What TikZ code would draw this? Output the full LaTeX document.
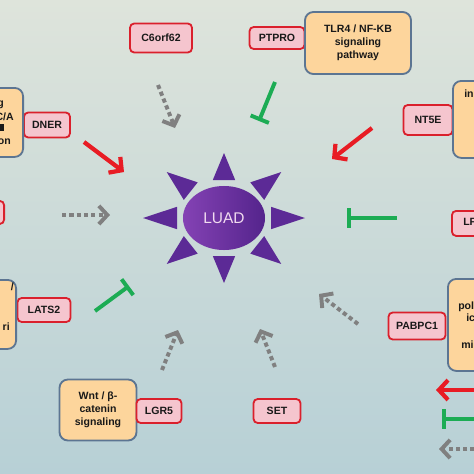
\documentclass[tikz,border=0pt]{standalone}
\usepackage{fontspec}
\setmainfont{Liberation Sans}
\usetikzlibrary{arrows.meta,shapes.geometric,calc}
\definecolor{bgtop}{RGB}{222,228,219}
\definecolor{bgbot}{RGB}{183,208,214}
\definecolor{pinkfill}{RGB}{245,197,206}
\definecolor{pinkline}{RGB}{218,32,44}
\definecolor{orfill}{RGB}{253,213,156}
\definecolor{orline}{RGB}{92,117,146}
\definecolor{actred}{RGB}{232,28,36}
\definecolor{inhgreen}{RGB}{28,172,84}
\definecolor{dotgrey}{RGB}{128,128,128}
\definecolor{sunlight}{RGB}{132,66,180}
\definecolor{sundark}{RGB}{84,36,140}
\definecolor{raycol}{RGB}{92,42,150}
\definecolor{luadtext}{RGB}{242,220,240}
\begin{document}
\begin{tikzpicture}[x=0.025cm, y=-0.025cm,
  gene/.style={draw=pinkline, fill=pinkfill, line width=1.3pt, rounded corners=3pt, inner sep=0pt, font=\bfseries\fontsize{7.5}{9}\selectfont, text=black!90},
  pathway/.style={draw=orline, fill=orfill, line width=1.3pt, rounded corners=6pt, inner sep=0pt, align=center, font=\bfseries\fontsize{7.5}{9.3}\selectfont, text=black!90},
  frag/.style={inner sep=0pt, font=\bfseries\fontsize{7.5}{9}\selectfont, text=black!90},
  activ/.style={draw=actred, line width=3pt, -{Straight Barb[length=6.5pt,width=14pt]}},
  inhib/.style={draw=inhgreen, line width=2.8pt, -{Bar[width=14pt]}},
  promo/.style={draw=dotgrey, line width=2.8pt, dash pattern=on 3pt off 2.2pt, -{Straight Barb[length=6pt,width=13pt]}}]
\useasboundingbox (0,0) rectangle (474,474);
\clip (0,0) rectangle (474,474);
\shade [top color=bgtop, bottom color=bgbot] (0,0) rectangle (474,474);

% LUAD and its rays
\node [ellipse, minimum width=2.05cm, minimum height=1.6cm, left color=sunlight, right color=sundark, text=luadtext, font=\fontsize{11}{13}\selectfont] (luad) at (224,218) {LUAD};
\foreach \a in {0,45,...,315}{
  \coordinate (tip) at ($(luad.center)+(\a:81 and 65)$);
  \coordinate (base) at ($(luad.center)+(\a:47 and 38)$);
  \fill [raycol] ($(base)!0.28cm!90:(tip)$) -- (tip) -- ($(base)!0.28cm!-90:(tip)$) -- cycle;
}

% genes and pathways
\node [gene, minimum width=1.55cm, minimum height=0.725cm] (c6orf62) at (161,38) {C6orf62};
\node [gene, minimum width=1.375cm, minimum height=0.55cm] (ptpro) at (277,38) {PTPRO};
\node [pathway, minimum width=2.65cm, minimum height=1.55cm] (tlr4) at (358,43) {TLR4 / NF-KB\\signaling\\pathway};
\node [gene, minimum width=1.225cm, minimum height=0.75cm] (nt5e) at (428,120) {NT5E};
\node [pathway, minimum width=2.7cm, minimum height=1.925cm, anchor=north west] (rightup) at (452,80) {};
\node [frag, anchor=west] at (464,94) {in};
\node [gene, minimum width=1.7cm, minimum height=0.625cm, anchor=north west] (lf) at (451,210) {};
\node [frag, anchor=west] at (463,222) {LF};
\node [gene, minimum width=1.425cm, minimum height=0.675cm] (pabpc1) at (417,326) {PABPC1};
\node [pathway, minimum width=2.8cm, minimum height=2.3cm, anchor=north west] (rightlow) at (447,278) {};
\node [frag, anchor=west] at (458,307) {pol};
\node [frag, anchor=west] at (466,318) {ic};
\node [frag, anchor=west] at (461,345) {mi};

\node [gene, minimum width=1.15cm, minimum height=0.625cm] (dner) at (47,125) {DNER};
\node [pathway, minimum width=3cm, minimum height=1.725cm, anchor=north east] (leftup) at (24,87) {};
\node [frag, anchor=east] at (4,105) {g};
\node [frag, anchor=east] at (14,117) {C/A};
\fill [black!90] (0,124) rectangle (4,131);
\node [frag, anchor=east] at (11,142) {on};
\node [gene, minimum width=1.5cm, minimum height=0.575cm, anchor=north east] (leftgene) at (5,200) {};
\node [gene, minimum width=1.325cm, minimum height=0.6cm] (lats2) at (44,310) {LATS2};
\node [pathway, minimum width=3cm, minimum height=1.725cm, anchor=north east] (leftlow) at (17,279) {};
\node [frag, anchor=east] at (14,287) {/};
\node [frag, anchor=east] at (10,327) {ri};
\node [pathway, minimum width=1.925cm, minimum height=1.525cm] (wnt) at (98,410) {Wnt / β-\\catenin\\signaling};
\node [gene, minimum width=1.125cm, minimum height=0.6cm] (lgr5) at (159,411) {LGR5};
\node [gene, minimum width=1.175cm, minimum height=0.6cm] (set) at (277,411) {SET};

% connectors
\coordinate (c6s) at (158,85);   \coordinate (c6e) at (175,128);
\coordinate (pts) at (275,82);   \coordinate (pte) at (259,121);
\coordinate (nts) at (372,128);  \coordinate (nte) at (332,159);
\coordinate (lfs) at (397,218);  \coordinate (lfe) at (347,218);
\coordinate (pas) at (358,324);  \coordinate (pae) at (319,294);
\coordinate (ses) at (275,367);  \coordinate (see) at (260,329);
\coordinate (lgs) at (162,370);  \coordinate (lge) at (178,330);
\coordinate (las) at (95,311);   \coordinate (lae) at (129,286);
\coordinate (les) at (62,215);   \coordinate (lee) at (110,215);
\coordinate (dns) at (84,142);   \coordinate (dne) at (124,172);
\draw [promo] (c6s) -- (c6e);
\draw [inhib] (pts) -- (pte);
\draw [activ] (nts) -- (nte);
\draw [inhib] (lfs) -- (lfe);
\draw [promo] (pas) -- (pae);
\draw [promo] (ses) -- (see);
\draw [promo] (lgs) -- (lge);
\draw [inhib] (las) -- (lae);
\draw [promo] (les) -- (lee);
\draw [activ] (dns) -- (dne);

% legend
\coordinate (k1s) at (482,390);  \coordinate (k1e) at (436,390);
\coordinate (k2s) at (482,419);  \coordinate (k2e) at (442,419);
\coordinate (k3s) at (482,449);  \coordinate (k3e) at (439,449);
\draw [activ] (k1s) -- (k1e);
\draw [inhib] (k2s) -- (k2e);
\draw [promo] (k3s) -- (k3e);
\end{tikzpicture}
\end{document}
